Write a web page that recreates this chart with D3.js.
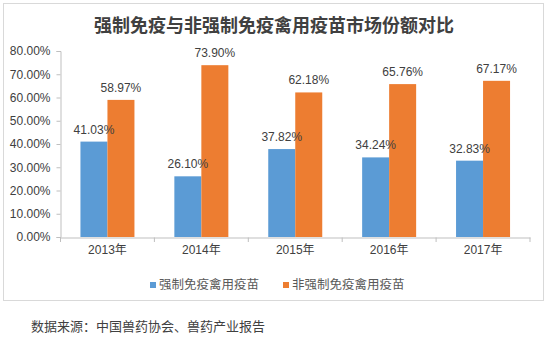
<!DOCTYPE html>
<html>
<head>
<meta charset="utf-8">
<script src="https://cdn.jsdelivr.net/npm/d3@7"></script>
<style>
  body { margin: 0; background: #fff; }
  text { font-family: "Liberation Sans", "Noto Sans CJK SC", sans-serif; }
</style>
</head>
<body>
<div id="chart"></div>
<script>
const years = ["2013年", "2014年", "2015年", "2016年", "2017年"];
const seriesNames = ["强制免疫禽用疫苗", "非强制免疫禽用疫苗"];
const mandatory = [41.03, 26.10, 37.82, 34.24, 32.83];
const nonMandatory = [58.97, 73.90, 62.18, 65.76, 67.17];
const yTicks = [0, 10, 20, 30, 40, 50, 60, 70, 80];
const colors = ["#5b9bd5", "#ed7d31"];

const width = 546, height = 339;
const svg = d3.select("#chart").append("svg")
  .attr("width", width).attr("height", height);

// outer frame
svg.append("rect")
  .attr("x", 3.5).attr("y", 3.5).attr("width", 540).attr("height", 297)
  .attr("fill", "#fff").attr("stroke", "#d9d9d9");

svg.append("text")
  .attr("x", 274).attr("y", 32)
  .attr("text-anchor", "middle")
  .style("font-family", "'Noto Sans CJK SC', sans-serif")
  .style("font-size", "18px").style("font-weight", "bold")
  .attr("fill", "#404040")
  .text("强制免疫与非强制免疫禽用疫苗市场份额对比");

const x = d3.scaleBand().domain(years).range([60.5, 530]);
const y = d3.scaleLinear().domain([0, 80]).range([237, 51]);
const inner = d3.scaleBand().domain([0, 1]).range([0, 54]);
const off = (x.bandwidth() - 54) / 2;

// y axis
const yAxis = svg.append("g")
  .attr("transform", "translate(60.5,0)")
  .call(d3.axisLeft(y).tickValues(yTicks).tickSize(4).tickFormat(d => d.toFixed(2) + "%"));
yAxis.select(".domain").attr("stroke", "#bfbfbf");
yAxis.selectAll(".tick line").attr("stroke", "#bfbfbf");
yAxis.selectAll("text").attr("fill", "#404040").style("font-size", "12px").attr("x", -10);

// x axis
const xAxis = svg.append("g")
  .attr("transform", "translate(0,237.5)")
  .call(d3.axisBottom(x).tickSize(0).tickSizeOuter(0));
xAxis.select(".domain").attr("stroke", "#bfbfbf");
xAxis.selectAll("text").attr("fill", "#404040").style("font-size", "12px").attr("dy", "1.1em");
// category separators
svg.append("g").selectAll("line")
  .data(years.concat(["end"]))
  .join("line")
  .attr("x1", (d, i) => i < years.length ? x(d) : x.range()[1])
  .attr("x2", (d, i) => i < years.length ? x(d) : x.range()[1])
  .attr("y1", 237.5).attr("y2", 242)
  .attr("stroke", "#bfbfbf");

const data = years.map((yr, i) => ({ yr, vals: [mandatory[i], nonMandatory[i]] }));

const groups = svg.append("g").selectAll("g")
  .data(data)
  .join("g")
  .attr("transform", d => `translate(${x(d.yr) + off},0)`);

groups.selectAll("rect")
  .data(d => d.vals.map((v, k) => ({ v, k })))
  .join("rect")
  .attr("x", d => inner(d.k))
  .attr("width", inner.bandwidth())
  .attr("y", d => y(d.v))
  .attr("height", d => y(0) - y(d.v))
  .attr("fill", d => colors[d.k]);

groups.selectAll("text.lbl")
  .data(d => d.vals.map((v, k) => ({ v, k })))
  .join("text")
  .attr("class", "lbl")
  .attr("x", d => inner(d.k) + inner.bandwidth() / 2)
  .attr("y", d => y(d.v) - 8)
  .attr("text-anchor", "middle")
  .attr("fill", "#404040")
  .style("font-size", "12px")
  .text(d => d.v.toFixed(2) + "%");

// legend
const legendX = [150, 283];
const legend = svg.append("g").selectAll("g")
  .data(seriesNames)
  .join("g")
  .attr("transform", (d, i) => `translate(${legendX[i]},285)`);
legend.append("rect")
  .attr("x", 0).attr("y", -3).attr("width", 6).attr("height", 6)
  .attr("fill", (d, i) => colors[i]);
legend.append("text")
  .attr("x", 9).attr("y", 0).attr("dy", "0.35em")
  .style("font-family", "'Noto Sans CJK SC', sans-serif")
  .style("font-size", "12.5px")
  .attr("fill", "#595959")
  .text(d => d);

svg.append("text")
  .attr("x", 31).attr("y", 331)
  .style("font-family", "'Noto Sans CJK SC', sans-serif")
  .style("font-size", "13px")
  .attr("fill", "#404040")
  .text("数据来源：中国兽药协会、兽药产业报告");
</script>
</body>
</html>
